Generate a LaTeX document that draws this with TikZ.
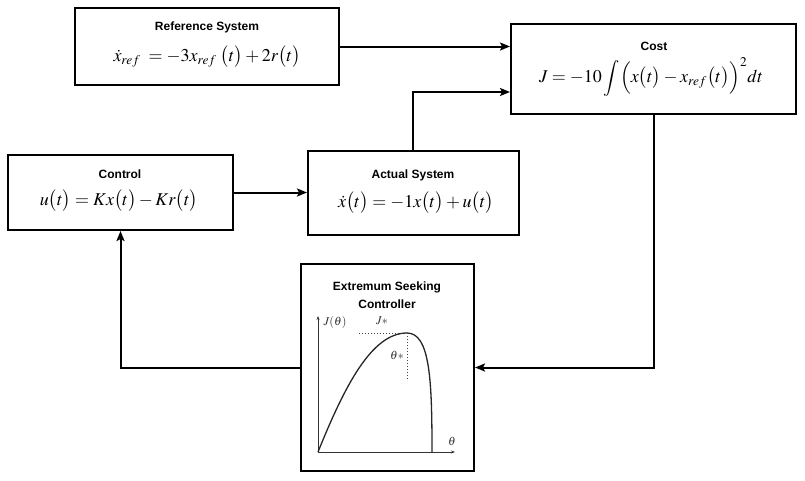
\documentclass[tikz,border=0pt]{standalone}
\usepackage{mathptmx}
\usepackage[no-math]{fontspec}
\setmainfont{Liberation Sans}
\usepackage{tikz}
\usetikzlibrary{arrows.meta, positioning}
\tikzset{
	x=1pt,
	y=-1pt,
	line width = 2pt,
	>={Stealth[length=10pt,width=8pt,inset=2pt]},
	block/.style={
		draw,
		rectangle,
		line width=2pt,
		inner sep=0pt
	},
	title/.style={
		font=\fontsize{12}{14}\selectfont\bfseries,
		inner sep=0pt
	},
	eq/.style={
		font=\fontsize{18}{21}\selectfont,
		inner sep=0pt
	},
	plotlabel/.style={
		font=\fontsize{12}{14}\selectfont,
		text=black!80,
		inner sep=0pt
	},
	edge/.style={
		->,
		line width=2pt
	}
}

\begin{document}
\begin{tikzpicture}
		\useasboundingbox (0,0) rectangle (805,480);

		% boxes
		\node[block, minimum width=264pt, minimum height=77pt] (refsys) at (207,46.5) {};
		\node[block, minimum width=285pt, minimum height=90pt] (cost) at (653.5,69) {};
		\node[block, minimum width=225pt, minimum height=75pt] (control) at (120.5,192.5) {};
		\node[block, minimum width=211pt, minimum height=84pt] (actual) at (413.5,193) {};
		\node[block, minimum width=173pt, minimum height=207pt] (esc) at (387.5,367.5) {};

		% texts
		\node[title] (refsys title) at (207,27) {Reference System};
		\node[eq] (refsys eq) at (207,57) {$\dot{x}_{ref}\;=-3x_{ref}\;\bigl(t\bigr)+2r\bigl(t\bigr)$};
		\node[title] (cost title) at (654,46) {Cost};
		\node[eq] (cost eq) at (651,77) {$J=-10\displaystyle\int\Bigl(x\bigl(t\bigr)-x_{ref}\bigl(t\bigr)\Bigr)^{2}dt$};
		\node[title] (control title) at (120,174) {Control};
		\node[eq] (control eq) at (119,201) {$u\bigl(t\bigr)=Kx\bigl(t\bigr)-Kr\bigl(t\bigr)$};
		\node[title] (actual title) at (413,175) {Actual System};
		\node[eq] (actual eq) at (416,203) {$\dot{x}\bigl(t\bigr)=-1x\bigl(t\bigr)+u\bigl(t\bigr)$};
		\node[title] (esc title) at (387,287) {Extremum Seeking};
		\node[title] (esc title2) at (387,304) {Controller};

		% cost curve inside the controller
		\coordinate (o) at (318,452);
		\coordinate (ytop) at (318,316);
		\coordinate (xend) at (455,452);
		\coordinate (peak) at (407,333);
		\draw[->, line width=1pt, draw=black!80, >={Stealth[length=4pt,width=3pt]}] (o) -- (ytop);
		\draw[->, line width=1pt, draw=black!80, >={Stealth[length=4pt,width=3pt]}] (o) -- (xend);
		\draw[line width=1.3pt, draw=black!85] (o) .. controls (345,385) and (372,333) .. (peak)
			.. controls (430,333) and (432,380) .. (432,452);
		\draw[line width=1pt, draw=black!75, dotted] (359,333) -- (peak) -- (407,381);
		\node[plotlabel] (jtheta) at (335,322) {$J(\theta)$};
		\node[plotlabel] (jstar) at (382,321) {$J{*}$};
		\node[plotlabel] (thetastar) at (397,355) {$\theta{*}$};
		\node[plotlabel] (theta) at (452,441) {$\theta$};

		% connectors
		\coordinate (k1) at (413,92);
		\draw[edge] (refsys.east) -- (refsys.east -| cost.west);
		\draw[edge] (actual.north -| k1) |- (cost.west |- k1);
		\draw[edge] (control.east) -- (control.east -| actual.west);
		\draw[edge] (cost.south) |- (esc.east);
		\draw[edge] (esc.west) -| (control.south);
	\end{tikzpicture}
\end{document}
